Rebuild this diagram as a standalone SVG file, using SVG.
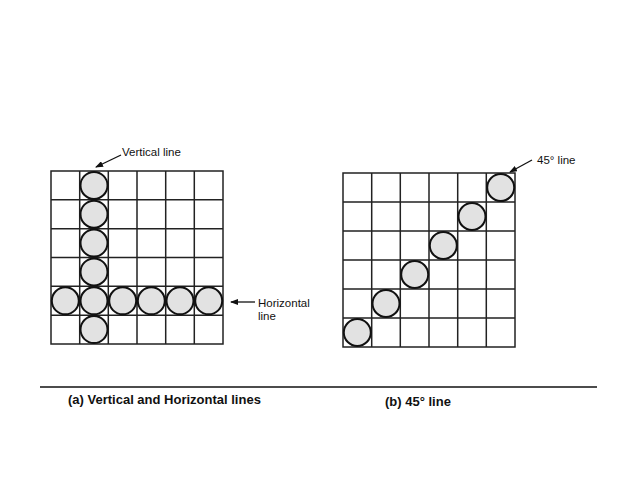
<svg xmlns="http://www.w3.org/2000/svg" width="638" height="478" viewBox="0 0 638 478">
<style>
.g{fill:none;stroke:#222;stroke-width:1.5}
.c{fill:#e2e2e2;stroke:#111;stroke-width:2}
.t{font-family:"Liberation Sans",Arial,sans-serif;font-size:11.5px;fill:#111}
.b{font-family:"Liberation Sans",Arial,sans-serif;font-size:13px;font-weight:bold;fill:#111}
.a{stroke:#111;stroke-width:1.3;fill:none;marker-end:url(#ar)}
</style>
<defs>
<marker id="ar" markerWidth="8" markerHeight="6" refX="7" refY="3" orient="auto" markerUnits="userSpaceOnUse"><path d="M0,0L8,3L0,6z" fill="#111"/></marker>
</defs>
<rect width="638" height="478" fill="#fff"/>
<g id="gridA">
<rect x="51" y="171" width="172" height="173" fill="none" stroke="#222" stroke-width="1.5"/>
<path class="g" d="M79.7,171V344M108.3,171V344M137,171V344M165.7,171V344M194.3,171V344M51,199.8H223M51,228.7H223M51,257.5H223M51,286.3H223M51,315.2H223"/>
<circle class="c" cx="94" cy="185.4" r="13.5"/>
<circle class="c" cx="94" cy="214.2" r="13.5"/>
<circle class="c" cx="94" cy="243.1" r="13.5"/>
<circle class="c" cx="94" cy="271.9" r="13.5"/>
<circle class="c" cx="65.3" cy="300.8" r="13.5"/>
<circle class="c" cx="94" cy="300.8" r="13.5"/>
<circle class="c" cx="122.7" cy="300.8" r="13.5"/>
<circle class="c" cx="151.3" cy="300.8" r="13.5"/>
<circle class="c" cx="180" cy="300.8" r="13.5"/>
<circle class="c" cx="208.7" cy="300.8" r="13.5"/>
<circle class="c" cx="94" cy="329.6" r="13.5"/>
</g>
<g id="gridB">
<rect x="343" y="173" width="172" height="174" fill="none" stroke="#222" stroke-width="1.5"/>
<path class="g" d="M371.7,173V347M400.3,173V347M429,173V347M457.7,173V347M486.3,173V347M343,202H515M343,231H515M343,260H515M343,289H515M343,318H515"/>
<circle class="c" cx="357.3" cy="332.5" r="13.5"/>
<circle class="c" cx="386" cy="303.5" r="13.5"/>
<circle class="c" cx="414.7" cy="274.5" r="13.5"/>
<circle class="c" cx="443.3" cy="245.5" r="13.5"/>
<circle class="c" cx="472" cy="216.5" r="13.5"/>
<circle class="c" cx="500.7" cy="187.5" r="13.5"/>
</g>
<g id="connectors">
<path class="a" d="M121,155L96,167"/>
<path class="a" d="M255,302H231"/>
<path class="a" d="M532,160L510,172"/>
<path d="M40,387H597" stroke="#111" stroke-width="1.5"/>
</g>
<g id="labels">
<text class="t" x="122" y="156">Vertical line</text>
<text class="t" x="258" y="307">Horizontal</text>
<text class="t" x="258" y="320">line</text>
<text class="t" x="537" y="164">45° line</text>
<text class="b" x="68" y="404">(a) Vertical and Horizontal lines</text>
<text class="b" x="385" y="406">(b) 45° line</text>
</g>
</svg>
